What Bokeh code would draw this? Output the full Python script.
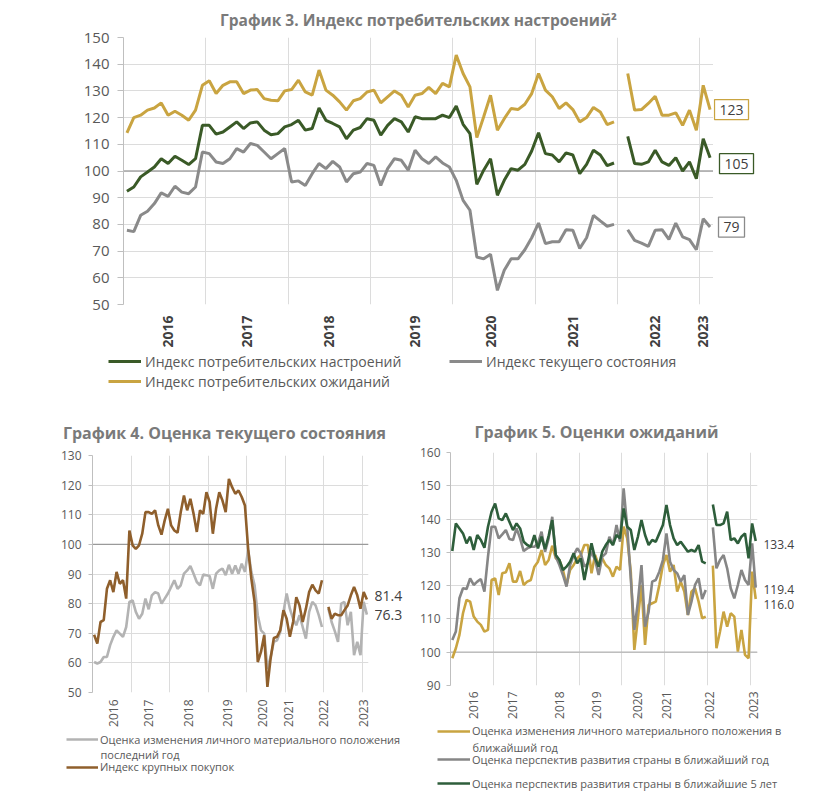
import math
import numpy as np
from bokeh.plotting import figure
from bokeh.models import FixedTicker, Span, Label, Legend, LegendItem, Range1d
from bokeh.layouts import column, row
from bokeh.embed import file_html
from bokeh.resources import INLINE

NAN = float("nan")
FONT = "Open Sans"
TXT = "#595959"
GRID = "#dcdcdc"
TITLE_COLOR = "#7a7a7a"

years = ["2016", "2017", "2018", "2019", "2020", "2021", "2022", "2023"]
# survey-wave index at which each year label stands
year_pos_top = [6, 17.5, 29.5, 42, 53, 65, 77, 84]
year_pos_g4 = [6, 17, 29.5, 41.5, 52.5, 60.5, 71.5, 84]
year_pos_g5 = [6, 17, 30, 40.5, 52, 60, 72, 84.5]

# ---- График 3 ----
sentiment = [92.4, 94.0, 97.8, 99.6, 101.5, 104.6, 102.8, 105.5, 104.0, 102.4,
             104.6, 117.1, 117.1, 113.8, 114.6, 116.5, 118.4, 115.9, 118.0, 118.4,
             115.3, 113.6, 114.0, 116.5, 117.4, 119.0, 115.3, 115.9, 123.6, 119.0,
             117.8, 116.5, 112.1, 115.3, 116.3, 119.6, 119.0, 113.4, 117.1, 119.6,
             118.4, 114.6, 120.3, 119.6, 119.6, 119.6, 120.9, 120.0, 124.3, 117.5,
             114.0, 95.0, 100.3, 104.6, 90.9, 96.5, 100.9, 100.3, 102.5, 107.5,
             114.3, 106.5, 106.0, 103.4, 106.8, 106.0, 99.0, 102.5, 107.8, 106.0,
             102.0, 103.0, NAN, 113.0, 102.8, 102.5, 103.4, 107.8, 103.4, 102.1,
             105.0, 100.0, 103.4, 97.1, 112.1, 105.0]
expectations = [114.3, 120.0, 120.9, 122.8, 123.6, 125.5, 120.9, 122.4, 120.9, 119.0,
                122.8, 132.1, 133.8, 129.0, 132.1, 133.4, 133.4, 129.0, 130.3, 130.5,
                127.1, 126.5, 126.3, 130.0, 130.5, 134.0, 129.6, 128.4, 137.8, 130.3,
                128.4, 125.9, 122.8, 126.3, 127.1, 129.6, 130.3, 125.5, 127.8, 130.0,
                128.4, 124.0, 128.4, 129.0, 131.3, 129.0, 132.8, 131.5, 143.4, 136.5,
                131.5, 112.5, 120.3, 128.4, 115.3, 119.6, 123.4, 123.0, 125.0, 129.0,
                136.5, 130.3, 127.8, 123.4, 125.5, 123.0, 118.4, 120.0, 123.8, 122.1,
                117.4, 118.4, NAN, 136.5, 122.8, 123.0, 125.3, 128.0, 120.9, 120.9,
                121.8, 117.1, 122.8, 115.3, 132.1, 123.0]
current = [77.8, 77.3, 83.4, 84.9, 87.8, 91.8, 90.5, 94.3, 92.1, 91.5,
           94.0, 107.1, 106.5, 103.4, 102.8, 104.6, 108.4, 107.1, 110.3, 109.6,
           107.1, 104.6, 106.5, 108.4, 95.9, 96.3, 94.6, 99.0, 102.8, 100.9,
           103.6, 101.5, 95.9, 99.0, 99.6, 102.8, 102.1, 94.6, 100.9, 104.6,
           104.0, 100.3, 107.8, 104.6, 102.8, 105.3, 103.0, 101.5, 96.5, 89.0,
           85.3, 67.8, 67.1, 68.8, 55.3, 62.8, 67.1, 67.1, 70.5, 75.0,
           80.5, 72.8, 73.5, 73.5, 78.0, 77.8, 71.0, 75.0, 83.4, 81.3,
           79.3, 80.0, NAN, 78.0, 74.0, 73.0, 71.8, 77.8, 78.0, 74.4,
           80.5, 75.3, 74.3, 70.5, 82.1, 79.0]

# ---- График 4 ----
personal_past = [60.3, 59.8, 60.3, 62.0, 62.0, 66.0, 68.8, 71.0, 69.9, 68.8,
                 72.1, 80.6, 81.1, 77.2, 74.9, 76.6, 81.7, 78.1, 82.8, 83.9,
                 83.4, 80.0, 81.7, 83.4, 85.6, 87.9, 85.0, 86.2, 90.1, 91.2,
                 92.7, 90.1, 87.3, 86.2, 89.8, 89.6, 89.3, 85.0, 90.1, 91.2,
                 91.8, 89.6, 93.1, 90.1, 92.9, 90.1, 93.5, 90.7, 98.0, 90.7,
                 86.2, 76.1, 71.0, 69.9, 58.0, 62.0, 67.1, 67.6, 70.4, 77.2,
                 83.4, 78.3, 74.9, 72.7, 76.1, 72.1, 68.2, 77.2, 80.6, 79.4,
                 76.1, 72.1, NAN, 78.3, 73.8, 70.7, 67.1, 80.0, 80.6, 72.7,
                 77.2, 62.6, 67.1, 62.6, 80.6, 76.3]
big_purchases = [69.5, 66.5, 73.8, 74.4, 85.0, 87.9, 83.9, 90.7, 86.7, 87.9,
                 81.7, 104.7, 99.7, 98.5, 99.7, 103.6, 110.9, 110.9, 110.3, 111.5,
                 106.4, 103.3, 108.1, 112.0, 106.4, 104.7, 103.9, 110.9, 116.5, 111.5,
                 115.4, 110.3, 104.2, 111.5, 110.3, 117.6, 114.3, 103.6, 112.0, 117.6,
                 114.8, 110.9, 122.1, 119.3, 117.1, 118.2, 116.0, 113.1, 98.5, 88.4,
                 80.6, 60.3, 63.7, 69.3, 51.9, 61.5, 68.4, 68.8, 71.0, 77.8,
                 74.9, 68.8, 73.8, 82.2, 79.4, 73.8, 78.3, 83.9, 86.4, 84.5,
                 83.4, 87.9, NAN, 78.9, 74.9, 76.6, 76.1, 76.1, 77.8, 79.4,
                 82.8, 85.6, 82.8, 78.3, 83.9, 81.4]

# ---- График 5 ----
personal_next = [98.2, 101.2, 105.2, 111.7, 115.7, 115.2, 110.7, 109.2, 108.2, 106.2,
                 106.7, 121.7, 122.2, 117.2, 123.7, 124.0, 126.7, 121.2, 121.2, 124.4,
                 120.2, 121.2, 121.7, 125.7, 127.2, 130.7, 126.2, 127.7, 132.0, 128.2,
                 127.7, 124.7, 120.2, 124.7, 126.2, 128.2, 129.2, 132.2, 132.2, 123.7,
                 129.2, 126.2, 128.2, 126.2, 125.2, 122.7, 125.7, 124.7, 137.7, 134.2,
                 124.2, 100.7, 110.2, 120.2, 102.2, 114.2, 114.7, 115.2, 120.2, 126.2,
                 129.2, 124.2, 126.2, 118.2, 121.2, 118.2, 111.2, 118.2, 119.2, 115.2,
                 110.2, 110.7, NAN, 126.0, 101.2, 106.2, 112.2, 107.7, 111.7, 110.7,
                 100.2, 106.7, 99.2, 98.2, 124.2, 116.0]
country_1y = [103.7, 106.2, 116.2, 119.2, 119.0, 122.2, 120.2, 121.2, 122.0, 118.2,
              128.7, 137.7, 137.7, 134.2, 135.4, 136.7, 134.0, 133.7, 137.2, 134.2,
              130.4, 131.2, 131.7, 131.7, 132.7, 136.2, 130.2, 134.2, 140.7, 128.7,
              126.2, 123.2, 119.7, 126.2, 129.2, 131.2, 129.7, 125.7, 126.7, 130.2,
              127.7, 123.2, 128.7, 129.7, 134.7, 132.2, 138.2, 133.2, 149.2, 137.7,
              122.2, 106.7, 115.2, 126.2, 107.7, 112.2, 121.2, 121.7, 124.2, 127.7,
              135.7, 127.2, 124.7, 123.7, 121.2, 123.2, 111.2, 115.2, 120.2, 122.2,
              116.0, 118.7, NAN, 137.5, 125.2, 127.7, 129.2, 125.2, 119.2, 116.2,
              120.2, 124.7, 121.7, 120.2, 132.7, 119.4]
country_5y = [130.4, 138.7, 137.2, 135.7, 132.7, 134.7, 130.7, 135.2, 133.7, 131.4,
              137.7, 142.2, 144.7, 140.2, 139.7, 141.7, 139.2, 136.7, 138.7, 137.2,
              133.2, 132.2, 131.7, 135.2, 131.2, 134.7, 131.0, 135.0, 139.7, 129.2,
              127.7, 124.7, 125.7, 127.2, 129.7, 126.7, 128.2, 121.7, 127.2, 132.7,
              128.2, 125.7, 130.2, 132.2, 133.7, 132.2, 135.2, 134.2, 143.2, 137.7,
              136.7, 130.7, 134.7, 139.7, 135.2, 132.2, 133.7, 133.2, 135.7, 138.2,
              144.2, 138.2, 134.2, 132.2, 133.2, 131.7, 130.2, 130.7, 130.2, 132.2,
              127.2, 126.7, NAN, 144.4, 138.2, 138.2, 138.7, 142.2, 133.7, 134.2,
              132.7, 134.7, 135.7, 128.2, 138.7, 133.4]

N = len(sentiment)
x = np.arange(N)
boundaries = [k * 12 - 0.5 for k in range(1, 8)]


def base(fw, fh, bl, br, bt, bb, ymin, ymax, title, tsize, tstand, ysize, yout, ystand,
         xpos, xsize, xbold, xstand):
    p = figure(frame_width=fw, frame_height=fh, min_border_left=bl, min_border_right=br,
               min_border_top=bt, min_border_bottom=bb,
               x_range=Range1d(-0.5, N - 0.5), y_range=Range1d(ymin, ymax),
               output_backend="svg", toolbar_location=None, title=title)
    p.outline_line_color = None
    if title is not None:
        p.title.text_font = FONT
        p.title.text_font_style = "bold"
        p.title.text_font_size = tsize
        p.title.text_color = TITLE_COLOR
        p.title.align = "center"
        p.title.standoff = tstand
    p.yaxis.ticker = list(range(ymin, ymax + 1, 10))
    p.yaxis.axis_line_color = "#bfbfbf"
    p.yaxis.major_tick_line_color = "#bfbfbf"
    p.yaxis.major_tick_out = yout
    p.yaxis.major_tick_in = 0
    p.yaxis.minor_tick_line_color = None
    p.yaxis.major_label_text_font = FONT
    p.yaxis.major_label_text_font_size = ysize
    p.yaxis.major_label_text_color = TXT
    p.yaxis.major_label_standoff = ystand
    p.xaxis.ticker = xpos
    p.xaxis.major_label_overrides = {pos: y for pos, y in zip(xpos, years)}
    p.xaxis.axis_line_color = None
    p.xaxis.major_tick_line_color = None
    p.xaxis.major_tick_out = 0
    p.xaxis.major_tick_in = 0
    p.xaxis.minor_tick_line_color = None
    p.xaxis.major_label_orientation = math.pi / 2
    p.xaxis.major_label_text_font = FONT
    p.xaxis.major_label_text_font_size = xsize
    p.xaxis.major_label_text_font_style = "bold" if xbold else "normal"
    p.xaxis.major_label_text_color = "#404040" if xbold else TXT
    p.xaxis.major_label_standoff = xstand
    p.ygrid.grid_line_color = GRID
    p.xgrid.grid_line_color = GRID
    p.xgrid.ticker = FixedTicker(ticks=boundaries)
    return p


def side(fw, fh, bt, bb, yr):
    """Narrow panel right of a chart, sharing its value scale (end-of-line labels)."""
    p = figure(frame_width=fw, frame_height=fh, min_border_left=0, min_border_right=0,
               min_border_top=bt, min_border_bottom=bb, x_range=Range1d(0, 1), y_range=yr,
               x_axis_type=None, y_axis_type=None, output_backend="svg",
               toolbar_location=None, title=None)
    p.outline_line_color = None
    return p


def panel(fw, fh):
    p = figure(frame_width=fw, frame_height=fh, min_border=0, x_range=Range1d(0, 1),
               y_range=Range1d(0, 1), x_axis_type=None, y_axis_type=None,
               output_backend="svg", toolbar_location=None, title=None)
    p.outline_line_color = None
    return p


def legend(p, items, loc, size, gw, standoff, h, lw):
    its = []
    for t, col in items:
        r = p.line([NAN, NAN], [NAN, NAN], line_color=col, line_width=lw)
        its.append(LegendItem(label=t, renderers=[r]))
    lg = Legend(items=its, location=loc,
                label_text_font=FONT, label_text_font_size=size, label_text_color=TXT,
                glyph_width=gw, glyph_height=h, label_height=h, label_standoff=standoff,
                padding=0, margin=0, spacing=0, border_line_color=None,
                background_fill_alpha=0)
    p.add_layout(lg)


def note(p, text, xs, ys, size, **kw):
    p.add_layout(Label(x=xs, y=ys, x_units="screen", y_units="screen", text=text,
                       text_font=FONT, text_font_size=size, text_baseline="middle", **kw))


# ===== График 3 =====
G_GREEN = "#3a5a27"
G_GOLD = "#c9a441"
G_GRAY = "#8a8a8a"
p3 = base(590, 267, 123, 0, 37, 46, 50, 150,
          "График 3. Индекс потребительских настроений²", "15.5px", 13,
          "15px", 6, 8, year_pos_top, "14px", True, 11)
p3.add_layout(Span(location=100, dimension="width", line_color="#a6a6a6", line_width=1.3,
                   level="underlay"))
p3.line(x, np.array(current, dtype=float), line_color=G_GRAY, line_width=3)
p3.line(x, np.array(expectations, dtype=float), line_color=G_GOLD, line_width=3)
p3.line(x, np.array(sentiment, dtype=float), line_color=G_GREEN, line_width=3)

p3r = side(109, 267, 37, 46, p3.y_range)
for vals, col, xo, yo in [(expectations, G_GOLD, 1, 0), (sentiment, G_GREEN, 6, -6),
                          (current, G_GRAY, 5, 0)]:
    last = vals[-1]
    p3r.add_layout(Label(x=xo, y=last, x_units="screen", y_offset=yo, text=f"{last:.0f}",
                         text_font=FONT, text_font_size="14px", text_color="#404040",
                         text_baseline="middle", padding=5, border_line_color=col,
                         border_line_width=1.3, background_fill_color="white"))

p3leg = panel(822, 50)
legend(p3leg, [("Индекс потребительских настроений", G_GREEN),
               ("Индекс потребительских ожиданий", G_GOLD)], (108, 9), "14px", 33, 4, 20, 3)
legend(p3leg, [("Индекс текущего состояния", G_GRAY)], (449, 29), "14px", 33, 4, 20, 3)

# ===== График 4 =====
C_LGRAY = "#b3b3b3"
C_BROWN = "#8f5f2c"
p4h = panel(416, 45)
note(p4h, "График 4. Оценка текущего состояния", 224, 12.6, "16px",
     text_align="center", text_font_style="bold", text_color=TITLE_COLOR)
p4 = base(276, 237, 92, 6, 10, 39, 50, 130, None, None, 0,
          "12px", 4, 7, year_pos_g4, "12px", False, 7)
p4.add_layout(Span(location=100, dimension="width", line_color="#9a9a9a", line_width=1.2,
                   level="underlay"))
p4.line(x, np.array(personal_past, dtype=float), line_color=C_LGRAY, line_width=2.6)
p4.line(x, np.array(big_purchases, dtype=float), line_color=C_BROWN, line_width=2.6)
p4r = side(42, 237, 10, 39, p4.y_range)
for vals, yo in [(big_purchases, 3), (personal_past, 0)]:
    p4r.add_layout(Label(x=0, y=vals[-1], x_units="screen", y_offset=yo, text=f"{vals[-1]:.1f}",
                         text_font=FONT, text_font_size="14px", text_color="#404040",
                         text_baseline="middle"))
p4leg = panel(416, 69)
legend(p4leg, [("Оценка изменения личного материального положения", C_LGRAY)], (66, 53.5), "11px", 32, 2, 14, 2.6)
note(p4leg, "последний год", 100, 46.5, "11px", text_color=TXT)
legend(p4leg, [("Индекс крупных покупок", C_BROWN)], (66, 26), "11px", 32, 2, 14, 2.6)

# ===== График 5 =====
C_GOLD = "#c9a441"
C_GRAY = "#868686"
C_GREEN = "#2e5e3b"
p5h = panel(406, 42)
note(p5h, "График 5. Оценки ожиданий", 180, 10.2, "16px",
     text_align="center", text_font_style="bold", text_color=TITLE_COLOR)
p5 = base(307, 233, 33, 6, 10, 38, 90, 160, None, None, 0,
          "12px", 4, 6, year_pos_g5, "12px", False, 6)
p5.add_layout(Span(location=100, dimension="width", line_color="#b5b5b5", line_width=1.2,
                   level="underlay"))
p5.line(x, np.array(personal_next, dtype=float), line_color=C_GOLD, line_width=2.6)
p5.line(x, np.array(country_1y, dtype=float), line_color=C_GRAY, line_width=2.6)
p5.line(x, np.array(country_5y, dtype=float), line_color=C_GREEN, line_width=2.6)
p5r = side(60, 233, 10, 38, p5.y_range)
for vals, yo in [(country_5y, -3), (country_1y, -2), (personal_next, -6)]:
    p5r.add_layout(Label(x=0, y=vals[-1], x_units="screen", y_offset=yo, text=f"{vals[-1]:.1f}",
                         text_font=FONT, text_font_size="12px", text_color="#404040",
                         text_baseline="middle"))
p5leg = panel(406, 77)
legend(p5leg, [("Оценка изменения личного материального положения в", C_GOLD)], (21, 62), "11px", 33, 2, 14, 2.6)
note(p5leg, "ближайший год", 56, 53.5, "11px", text_color=TXT)
legend(p5leg, [("Оценка перспектив развития страны в ближайший год", C_GRAY)], (21, 33.5), "11px", 33, 2, 14, 2.6)
legend(p5leg, [("Оценка перспектив развития страны в ближайшие 5 лет", C_GREEN)], (21, 9.5), "11px", 33, 2, 14, 2.6)

layout = column(
    row(p3, p3r),
    p3leg,
    row(column(p4h, row(p4, p4r), p4leg), column(p5h, row(p5, p5r), p5leg)),
)
open("out.html", "w").write(file_html(layout, INLINE))
